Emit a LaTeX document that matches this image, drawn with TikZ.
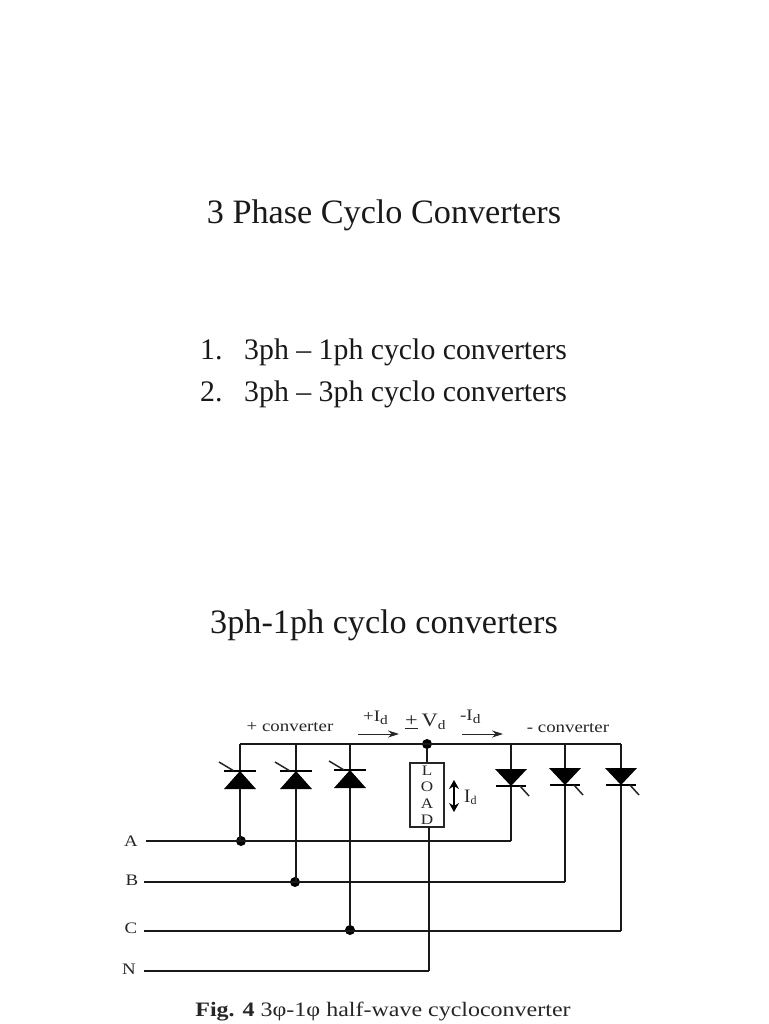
\documentclass[tikz,border=0pt]{standalone}
\usepackage{fontspec}
\setmainfont{Liberation Serif}
\usetikzlibrary{arrows.meta}
\newcommand{\wider}[1]{\scalebox{1.18}[1]{#1}}
\tikzset{
 wire/.style={line width=1.9pt,draw=black!90},
 dot/.style={circle,fill=black,inner sep=0pt,minimum width=10pt,minimum height=9pt},
 heading/.style={inner sep=0pt,font=\fontsize{34.2}{38}\selectfont,text=black!90},
 listline/.style={inner sep=0pt,anchor=base west,font=\fontsize{29.8}{34}\selectfont,text=black!90},
 lab/.style={inner sep=0pt,font=\fontsize{16}{18}\selectfont,text=black!85},
 biglab/.style={inner sep=0pt,font=\fontsize{19}{20}\selectfont,text=black!85},
 loadlab/.style={inner sep=0pt,font=\fontsize{14.5}{15}\selectfont,text=black!85},
 arr/.style={line width=0.9pt,-{Stealth[length=11pt,width=7pt]},draw=black!85},
}
\newcommand{\thyrup}[4]{
 \coordinate (#1) at (#2,#3);
 \fill[black] (#2-16,#4) -- (#2+16,#4) -- (#2,#3) -- cycle;
 \draw[line width=1.3pt] (#2-16,#3) -- (#2+16,#3);
 \draw[line width=1.5pt,draw=black!85] (#2-21,#3-9) -- (#2-6,#3);
}
\newcommand{\thyrdown}[4]{
 \coordinate (#1) at (#2,#3);
 \fill[black] (#2-16,#4) -- (#2+16,#4) -- (#2,#3) -- cycle;
 \draw[line width=1.3pt] (#2-15,#3) -- (#2+15,#3);
 \draw[line width=1.5pt,draw=black!85] (#2+9,#3) -- (#2+18,#3+10);
}
\begin{document}
\begin{tikzpicture}[x=1pt,y=-1pt]
\useasboundingbox (0,0) rectangle (768,1024);
\fill[white] (0,0) rectangle (768,1024);
\node[heading] (t1) at (384,215) {3 Phase Cyclo Converters};
\node[listline] (l1n) at (200,359) {1.};
\node[listline] (l1) at (244,359) {3ph – 1ph cyclo converters};
\node[listline] (l2n) at (200,401) {2.};
\node[listline] (l2) at (244,401) {3ph – 3ph cyclo converters};
\node[heading] (t2) at (384,625) {3ph-1ph cyclo converters};

\coordinate (Aw) at (146,841); \coordinate (Bw) at (144,882);
\coordinate (Cw) at (144,931); \coordinate (Nw) at (144,971);
\coordinate (Ar) at (511,841); \coordinate (Br) at (565,882);
\coordinate (Cr) at (621,931); \coordinate (Nr) at (429,971);
\coordinate (TL) at (240,744); \coordinate (TR) at (621,744);
\coordinate (T2) at (296,744); \coordinate (T3) at (350,744);
\coordinate (T4) at (511,744); \coordinate (T5) at (565,744);
\node[dot] (dA) at (241,841) {};
\node[dot] (dB) at (295,882) {};
\node[dot] (dC) at (350,930) {};
\node[dot] (dV) at (427,744) {};
\draw[wire] (TL) -- (TR);
\draw[wire] (Aw) -- (Ar);
\draw[wire] (Bw) -- (Br);
\draw[wire] (Cw) -- (Cr);
\draw[wire] (Nw) -- (Nr);
\draw[wire,line width=2.4pt] (TL) -- (TL |- dA);
\draw[wire,line width=2.4pt] (T2) -- (T2 |- dB);
\draw[wire,line width=2.4pt] (T3) -- (dC);
\draw[wire,line width=2.4pt] (T4) -- (Ar);
\draw[wire,line width=2.4pt] (T5) -- (Br);
\draw[wire] (TR) -- (Cr);

\node[draw=black!85,line width=1.6pt,fill=white,minimum width=34pt,minimum height=64pt,inner sep=0pt] (load) at (427,795) {};
\node[loadlab] (L) at (427,771) {\wider{L}};
\node[loadlab] (O) at (427,787) {\wider{O}};
\node[loadlab] (Ad) at (427,804) {\wider{A}};
\node[loadlab] (D) at (427,820) {\wider{D}};
\draw[wire,line width=2.4pt] (dV) -- (load.north);
\coordinate (loadout) at (429,827);
\draw[wire,line width=2.4pt] (loadout) -- (Nr);

\thyrup{s1}{240}{771}{789}
\thyrup{s2}{296}{771}{789}
\thyrup{s3}{350}{770}{788}
\thyrdown{s4}{511}{786}{769}
\thyrdown{s5}{565}{785}{768}
\thyrdown{s6}{621}{785}{768}

\node[lab] (pc) at (290,727) {\wider{+ converter}};
\node[lab] (mc) at (568,728) {\wider{- converter}};
\node[lab,anchor=west] (pid) at (363,718) {\wider{+I\raisebox{-3pt}{\fontsize{13}{13}\selectfont d}}};
\node[lab,anchor=west] (mid) at (460,717) {\wider{-I\raisebox{-3pt}{\fontsize{13}{13}\selectfont d}}};
\node[biglab,anchor=west] (vd) at (405,722) {\wider{\underline{+}\,V\raisebox{-3pt}{\fontsize{13}{13}\selectfont d}}};
\coordinate (a1s) at (358,734); \coordinate (a1e) at (399,734);
\coordinate (a2s) at (462,734); \coordinate (a2e) at (503,734);
\draw[arr] (a1s) -- (a1e);
\draw[arr] (a2s) -- (a2e);
\coordinate (a3s) at (454,780); \coordinate (a3e) at (454,812);
\draw[line width=1.2pt,{Stealth[length=9pt,width=10pt]}-{Stealth[length=9pt,width=10pt]}] (a3s) -- (a3e);
\node[biglab,anchor=west] (iid) at (464,797) {I\raisebox{-2pt}{\fontsize{12}{12}\selectfont d}};
\node[lab] (nA) at (131,841) {\wider{A}};
\node[lab] (nB) at (132,880) {\wider{B}};
\node[lab] (nC) at (131,928) {\wider{C}};
\node[lab] (nN) at (129,969) {\wider{N}};
\node[inner sep=0pt,font=\fontsize{20.5}{22}\selectfont,text=black!85] (cap) at (383,1012) {\scalebox{1.17}[1]{\textbf{Fig. 4} 3φ-1φ half-wave cycloconverter}};
\end{tikzpicture}
\end{document}
